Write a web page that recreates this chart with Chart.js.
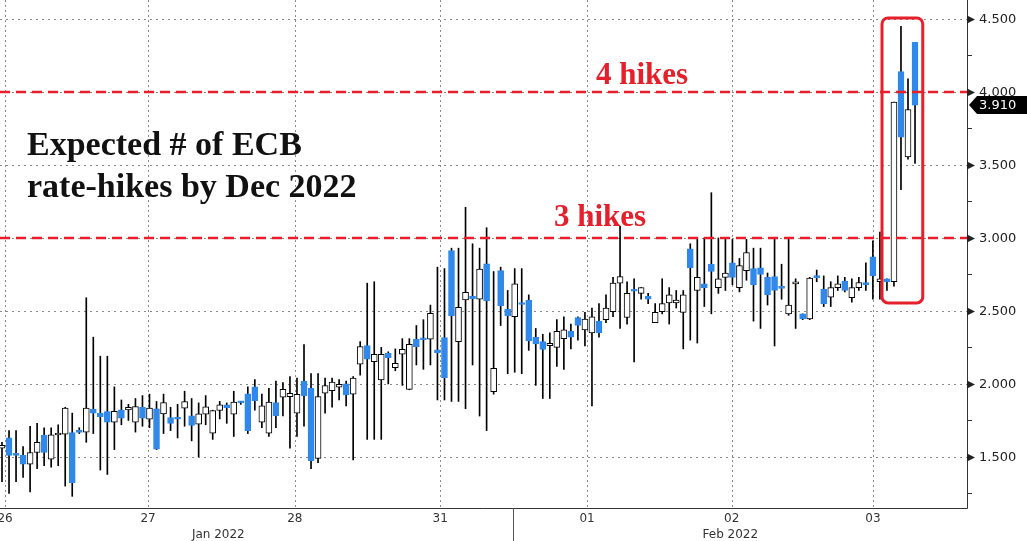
<!DOCTYPE html>
<html><head><meta charset="utf-8">
<script src="https://cdn.jsdelivr.net/npm/chart.js@4.4.0/dist/chart.umd.min.js"></script>
<style>html,body{margin:0;padding:0;background:#fff}canvas{display:block}</style>
</head><body>
<canvas id="c" width="1027" height="541"></canvas>
<script>
const opens  = [1.56,1.63,1.515,1.51,1.45,1.53,1.65,1.484,1.65,1.655,1.667,1.683,1.669,1.827,1.80,1.81,1.738,1.822,1.822,1.738,1.84,1.758,1.83,1.795,1.77,1.763,1.834,1.781,1.724,1.793,1.662,1.818,1.856,1.793,1.875,1.932,1.98,1.738,1.662,1.872,1.909,1.913,1.80,2.02,1.97,1.49,1.936,1.954,1.977,2.0,1.93,2.135,2.262,2.153,2.027,2.21,2.112,2.203,1.963,2.306,2.306,2.306,2.233,2.317,2.913,2.29,2.575,2.602,2.58,2.822,1.947,2.776,2.513,2.461,2.548,2.575,2.319,2.29,2.262,2.25,2.31,2.36,2.455,2.37,2.35,2.43,2.44,2.495,2.69,2.455,2.64,2.62,2.60,2.42,2.495,2.555,2.555,2.49,2.925,2.64,2.685,2.82,2.66,2.73,2.83,2.66,2.775,2.79,2.795,2.73,2.735,2.66,2.48,2.685,2.48,2.445,2.73,2.65,2.595,2.66,2.705,2.59,2.66,2.685,2.87,2.70,2.72,2.70,4.14,3.555,4.34];
const closes = [1.58,1.51,1.51,1.45,1.53,1.60,1.53,1.651,1.652,1.834,1.324,1.667,1.834,1.80,1.776,1.738,1.813,1.765,1.84,1.845,1.765,1.834,1.553,1.872,1.73,1.758,1.879,1.715,1.795,1.843,1.818,1.856,1.838,1.875,1.87,1.68,1.886,1.85,1.875,1.783,1.963,1.936,1.929,1.92,1.475,1.913,1.989,2.012,1.998,1.925,2.04,2.255,2.169,2.203,2.203,2.18,2.141,2.237,2.271,2.255,2.302,2.484,2.214,2.043,2.468,2.525,2.628,2.584,2.787,2.571,2.107,2.534,2.468,2.685,2.544,2.294,2.274,2.237,2.278,2.36,2.37,2.32,2.40,2.445,2.46,2.35,2.52,2.69,2.735,2.62,2.635,2.66,2.58,2.49,2.55,2.61,2.575,2.61,2.795,2.73,2.66,2.77,2.72,2.76,2.73,2.81,2.90,2.68,2.75,2.61,2.64,2.655,2.54,2.69,2.445,2.725,2.728,2.55,2.66,2.685,2.64,2.66,2.695,2.68,2.74,2.72,2.70,3.93,3.69,3.88,3.91];
const highs  = [1.60,1.68,1.68,1.57,1.71,1.73,1.70,1.70,1.72,1.84,1.80,1.70,2.59,2.32,2.19,2.19,1.98,1.89,1.86,1.90,1.92,1.93,1.88,1.93,1.84,1.86,1.95,1.90,1.87,1.92,1.82,1.88,1.87,1.95,1.88,1.98,2.03,1.93,1.97,2.02,2.01,2.05,2.04,2.27,2.07,2.07,2.04,2.04,2.03,2.02,2.05,2.29,2.69,2.70,2.25,2.22,2.24,2.31,2.31,2.40,2.44,2.54,2.80,2.79,2.93,2.93,3.21,2.96,2.93,3.07,2.77,2.80,2.64,2.79,2.79,2.61,2.38,2.34,2.35,2.44,2.46,2.41,2.46,2.49,2.52,2.55,2.61,2.73,3.08,2.70,2.72,2.66,2.62,2.55,2.72,2.66,2.64,2.64,2.96,3.00,3.00,3.31,3.00,2.99,2.99,2.86,2.99,2.93,2.93,2.76,2.99,2.82,2.99,2.72,2.48,2.73,2.78,2.74,2.70,2.74,2.73,2.72,2.73,2.83,2.98,3.04,2.72,3.93,4.45,4.09,4.34];
const lows   = [1.33,1.25,1.33,1.36,1.26,1.42,1.44,1.43,1.44,1.30,1.23,1.66,1.60,1.66,1.41,1.38,1.55,1.72,1.75,1.67,1.71,1.70,1.55,1.66,1.68,1.63,1.71,1.61,1.50,1.72,1.62,1.76,1.73,1.64,1.86,1.66,1.82,1.70,1.64,1.70,1.78,1.56,1.64,1.71,1.42,1.46,1.80,1.84,1.89,1.85,1.48,2.06,1.62,1.62,1.62,2.00,2.09,1.99,1.96,2.13,2.10,2.13,1.89,1.89,1.88,1.88,1.83,2.13,1.78,1.68,1.93,2.40,2.07,2.08,2.07,2.23,1.99,1.90,1.90,2.12,2.10,2.24,2.30,2.26,1.85,2.32,2.42,2.46,2.38,2.41,2.15,2.58,2.55,2.42,2.48,2.41,2.52,2.24,2.30,2.28,2.53,2.48,2.62,2.64,2.68,2.63,2.71,2.43,2.38,2.54,2.26,2.58,2.47,2.38,2.44,2.44,2.70,2.53,2.53,2.64,2.63,2.56,2.64,2.64,2.58,2.58,2.64,2.67,3.33,3.54,3.51];
const dayTicks  = [0.43,20.8,41.7,62.4,83.3,103.9,124.0];
const dayLabels = ['26','27','28','31','01','02','03'];
const monthPos    = [30.8,103.7];
const monthLabels = ['Jan 2022','Feb 2022'];
const monthSep = 72.8;
const yLabels = [1.5,2.0,2.5,3.0,3.5,4.0,4.5];
const hikeLevels = [3.0,4.0];
const hikeLabels = ['3 hikes','4 hikes'];
const lastValue = 3.91;

const BLUE = '#2f88ea', RED = '#e5202b';
const idx = opens.map((_,i)=>i);
const bodies = idx.map(i=>({x:i,y:[Math.min(opens[i],closes[i]),Math.max(opens[i],closes[i])]}));
const wicks = idx.map(i=>({x:i,y:[lows[i],highs[i]]}));
const up = idx.map(i=>closes[i]>=opens[i]);

const grid = {
  id:'grid',
  beforeDatasetsDraw(ch){
    const {ctx,scales:{x,y},chartArea:a} = ch;
    ctx.save(); ctx.strokeStyle='#8a8a8a'; ctx.lineWidth=1; ctx.setLineDash([2,4]);
    yLabels.forEach(v=>{const py=Math.round(y.getPixelForValue(v))+0.5;ctx.beginPath();ctx.moveTo(0,py);ctx.lineTo(a.right,py);ctx.stroke();});
    ctx.setLineDash([2,3]);
    dayTicks.forEach(t=>{const px=Math.round(x.getPixelForValue(t))+0.5;ctx.beginPath();ctx.moveTo(px,0);ctx.lineTo(px,a.bottom);ctx.stroke();});
    ctx.restore();
  }
};
const deco = {
  id:'deco',
  afterDatasetsDraw(ch){
    const {ctx,scales:{x,y},chartArea:a} = ch;
    ctx.save();
    ctx.strokeStyle = RED; ctx.lineWidth = 2.5; ctx.setLineDash([10,6]);
    hikeLevels.forEach(v=>{const py=Math.round(y.getPixelForValue(v));ctx.beginPath();ctx.moveTo(0,py);ctx.lineTo(a.right+8,py);ctx.stroke();});
    ctx.setLineDash([]);
    ctx.fillStyle = RED; ctx.font = 'bold 31px "Liberation Serif", serif'; ctx.textAlign='center'; ctx.textBaseline='alphabetic';
    ctx.fillText(hikeLabels[0], 600, y.getPixelForValue(3.0)-12);
    ctx.fillText(hikeLabels[1], 642, y.getPixelForValue(4.0)-8);
    ctx.fillStyle='#111'; ctx.textAlign='left'; ctx.font='bold 34px "Liberation Serif", serif';
    ctx.fillText('Expected # of ECB', 27, 155);
    ctx.fillText('rate-hikes by Dec 2022', 27, 197);
    const x0=x.getPixelForValue(125.3), x1=x.getPixelForValue(131.1), y0=y.getPixelForValue(4.507), y1=y.getPixelForValue(2.555);
    ctx.strokeStyle=RED; ctx.lineWidth=3; ctx.beginPath(); ctx.roundRect(x0,y0,x1-x0,y1-y0,6); ctx.stroke();
    ctx.strokeStyle='#333'; ctx.lineWidth=1;
    ctx.beginPath(); ctx.moveTo(a.right+0.5,0); ctx.lineTo(a.right+0.5,a.bottom+0.5); ctx.lineTo(0,a.bottom+0.5); ctx.stroke();
    ctx.fillStyle='#222'; ctx.font='13px "DejaVu Sans", sans-serif'; ctx.textBaseline='middle';
    for(let v=1.25; v<=4.51; v+=0.25){
      const py=Math.round(y.getPixelForValue(v))+0.5;
      if(Math.abs(v*2-Math.round(v*2))<1e-6){
        ctx.beginPath(); ctx.moveTo(a.right,py-4); ctx.lineTo(a.right+8,py); ctx.lineTo(a.right,py+4); ctx.fill();
        ctx.fillText(v.toFixed(3), a.right+12, py);
      } else {
        ctx.beginPath(); ctx.moveTo(a.right,py); ctx.lineTo(a.right+5,py); ctx.stroke();
      }
    }
    const ly=y.getPixelForValue(lastValue);
    ctx.fillStyle='#000'; ctx.beginPath(); ctx.moveTo(a.right+2,ly); ctx.lineTo(a.right+10,ly-9); ctx.lineTo(1027,ly-9); ctx.lineTo(1027,ly+9); ctx.lineTo(a.right+10,ly+9); ctx.closePath(); ctx.fill();
    ctx.fillStyle='#fff'; ctx.fillText(lastValue.toFixed(3), a.right+12, ly+1);
    ctx.fillStyle='#333'; ctx.font='12px "DejaVu Sans", sans-serif'; ctx.textAlign='center';
    dayTicks.forEach((t,i)=>ctx.fillText(dayLabels[i], x.getPixelForValue(t), a.bottom+11));
    monthPos.forEach((t,i)=>ctx.fillText(monthLabels[i], x.getPixelForValue(t), a.bottom+27));
    const sx=Math.round(x.getPixelForValue(monthSep))+0.5;
    ctx.strokeStyle='#555'; ctx.beginPath(); ctx.moveTo(sx,a.bottom); ctx.lineTo(sx,541); ctx.stroke();
    ctx.restore();
  }
};

new Chart(document.getElementById('c'),{
  type:'bar',
  data:{datasets:[
    {data:wicks, backgroundColor:'#000', barThickness:1, grouped:false, order:2},
    {data:bodies, backgroundColor:idx.map(i=>up[i]?'#fff':BLUE), borderColor:idx.map(i=>up[i]?'#000':BLUE),
     borderWidth:1, borderSkipped:false, barThickness:6, grouped:false, minBarLength:2, order:1}
  ]},
  options:{
    responsive:false, animation:false, devicePixelRatio:1,
    layout:{padding:0},
    plugins:{legend:{display:false},tooltip:{enabled:false}},
    scales:{
      x:{type:'linear', min:-0.285, max:137.4, offset:false,
         afterFit(s){s.height=33;},
         ticks:{display:false}, border:{display:false}, grid:{display:false}},
      y:{position:'right', min:1.15, max:4.63,
         afterFit(s){s.width=60;},
         ticks:{display:false}, border:{display:false}, grid:{display:false}}
    }
  },
  plugins:[grid, deco]
});
</script>
</body></html>
